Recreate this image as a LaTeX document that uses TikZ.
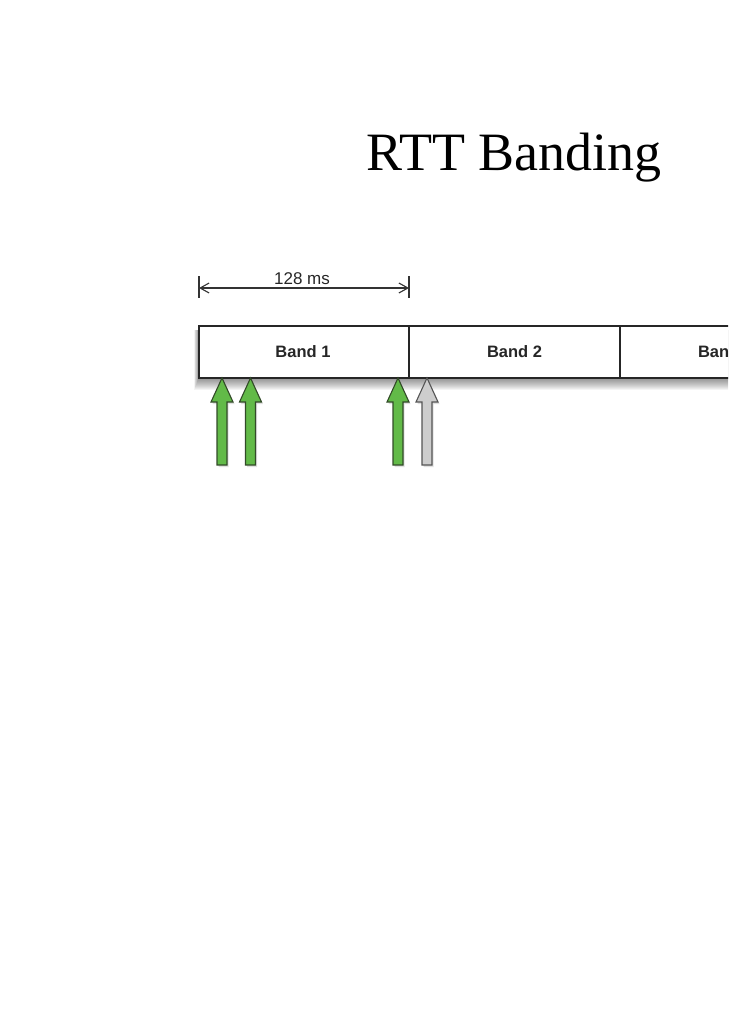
\documentclass[tikz,border=0pt]{standalone}
\usepackage{fontspec}
\setmainfont{Liberation Serif}
\newfontfamily\bandfont{Liberation Sans}
\usetikzlibrary{arrows.meta}
\definecolor{arrgreen}{RGB}{98,186,72}
\definecolor{arrgreenedge}{RGB}{50,75,40}
\definecolor{arrgray}{RGB}{205,205,205}
\definecolor{arrgrayedge}{RGB}{85,85,85}
\tikzset{
  bandline/.style={draw=black!85,line width=1.5pt},
  bandlabel/.style={font=\bandfont\bfseries\fontsize{16.5}{19}\selectfont,text=black!85},
  dimline/.style={draw=black!80,line width=1.1pt},
  greenarrow/.style={fill=arrgreen,draw=arrgreenedge,line width=1.1pt,line join=miter},
  grayarrow/.style={fill=arrgray,draw=arrgrayedge,line width=1.1pt,line join=miter},
}
\begin{document}
\begin{tikzpicture}[x=1pt,y=-1pt]
\useasboundingbox (0,0) rectangle (728,1030);
\clip (0,0) rectangle (728,1030);
% title
\node[font=\fontsize{54}{60}\selectfont,anchor=base] (title) at (514,170) {RTT Banding};
% dimension
\coordinate (dl) at (199,288);
\coordinate (dr) at (409,288);
\draw[dimline] (199,276) -- (199,298);
\draw[dimline] (409,276) -- (409,298);
\draw[dimline,{Straight Barb[length=9pt,width=10pt]}-{Straight Barb[length=9pt,width=10pt]}] (dl) -- (dr);
\node[font=\bandfont\fontsize{17}{20}\selectfont,text=black!85,anchor=base] (dimlabel) at (302,284) {128 ms};
% shadow of band bar
\foreach \k in {1,...,12}{
  \fill[black,opacity=0.045] (199-\k*0.4,330) rectangle (760,378+\k);
}
% bands
\fill[white] (199,326) rectangle (760,378);
\draw[bandline] (760,326) -- (199,326) -- (199,378) -- (760,378);
\draw[bandline] (409,326) -- (409,378);
\draw[bandline] (620,326) -- (620,378);
\node[bandlabel] (b1) at (303,352) {Band 1};
\node[bandlabel] (b2) at (514.5,352) {Band 2};
\node[bandlabel] (b3) at (725.5,352) {Band 3};
% arrows
\foreach \cx/\st in {222/greenarrow,250.5/greenarrow,398/greenarrow,427/grayarrow}{
  \fill[black,opacity=0.12] (\cx+1.5,380) -- (\cx+12.5,404) -- (\cx+6.5,404) -- (\cx+6.5,467) -- (\cx-3.5,467) -- (\cx-3.5,404) -- (\cx-9.5,404) -- cycle;
  \path[\st] (\cx,378) -- (\cx+11,402) -- (\cx+5,402) -- (\cx+5,465) -- (\cx-5,465) -- (\cx-5,402) -- (\cx-11,402) -- cycle;
}
\end{tikzpicture}
\end{document}
